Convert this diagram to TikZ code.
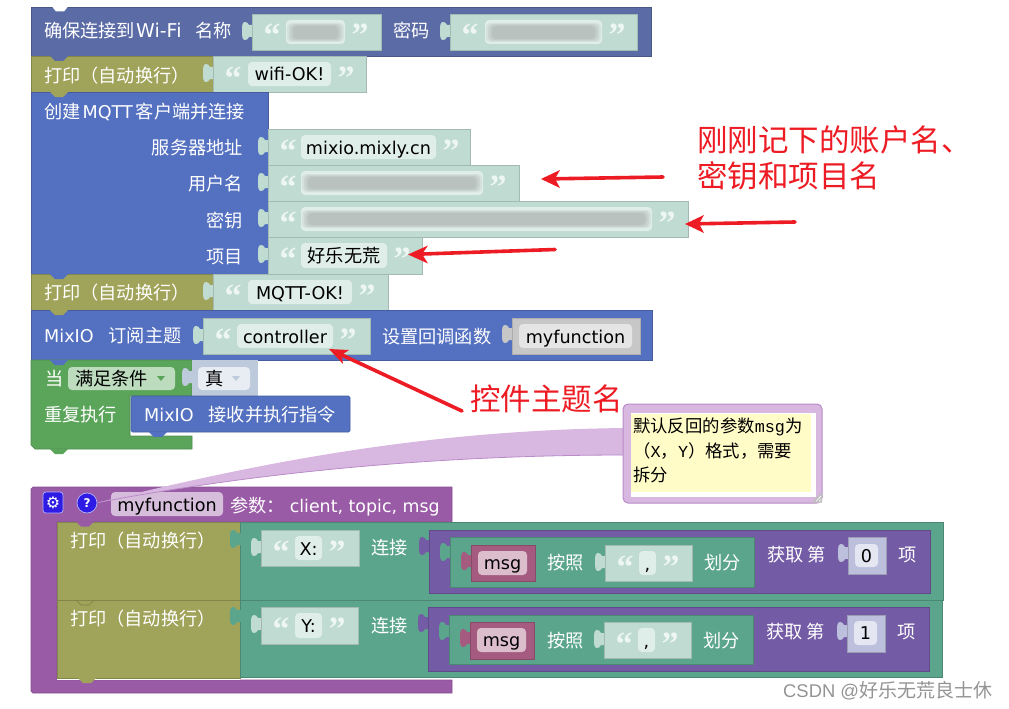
\documentclass[tikz,border=0pt]{standalone}
\usepackage{fontspec}
\usetikzlibrary{calc}
\setmainfont{DejaVu Sans}
\newfontfamily\cjk[Scale=1.034]{Noto Sans CJK SC}
\newfontfamily\qfont{Liberation Serif}[BoldFont={Liberation Serif Bold}]
\newfontfamily\cmono{Liberation Mono}
\newfontfamily\wmfont{Liberation Sans}
\newcommand{\cn}[1]{{\cjk #1}}
\definecolor{cWifi}{HTML}{5B6BA5}
\definecolor{cPrint}{HTML}{A0A45A}
\definecolor{cMq}{HTML}{5470C0}
\definecolor{cStr}{HTML}{C0DBD1}
\definecolor{cFld}{HTML}{E0EEEA}
\definecolor{cQuo}{HTML}{EDF6F3}
\definecolor{cGreen}{HTML}{5BA55B}
\definecolor{cFun}{HTML}{995BA5}
\definecolor{cTeal}{HTML}{5BA58C}
\definecolor{cVio}{HTML}{745BA5}
\definecolor{cMsg}{HTML}{A55B80}
\definecolor{cNum}{HTML}{BCC0DC}
\definecolor{cRed}{HTML}{ED1C24}
\definecolor{cBub}{HTML}{D8B7E0}
\definecolor{cBubE}{HTML}{B98CC8}
\definecolor{cTrue}{HTML}{BCCADC}
\tikzset{
  wtxt/.style={text=white,inner sep=0pt,font=\fontsize{17.6}{20}\selectfont},
  btxt/.style={text=black,inner sep=0pt,font=\fontsize{17.6}{20}\selectfont},
  rtxt/.style={text=cRed,inner sep=0pt,font=\fontsize{29.5}{34}\selectfont\cjk},
  ctxt/.style={text=black,inner sep=0pt,font=\fontsize{16.8}{20}\selectfont},
  qmark/.style={text=cQuo,inner sep=0pt,font=\fontsize{34}{34}\selectfont\qfont\bfseries},
  redarrow/.style={draw=cRed,line width=3.6pt,line cap=round},
}
% rectangular block
\newcommand{\blk}[5]{\path[fill=#1,draw=#1!82!black,line width=.7pt] (#2,#3) rectangle (#4,#5);}
% puzzle tab on the left edge of x, starting at y
\newcommand{\tabp}[3]{\fill[#1] ({#2+1},{#3+11}) -- ({#2-3},{#3+11}) .. controls ({#2-4},{#3+9}) and ({#2-5},{#3+8}) .. ({#2-7},{#3+8}) .. controls ({#2-10},{#3+8}) and ({#2-10},{#3+12}) .. ({#2-10},{#3+17}) .. controls ({#2-10},{#3+22}) and ({#2-10},{#3+26}) .. ({#2-7},{#3+26}) .. controls ({#2-5},{#3+26}) and ({#2-4},{#3+25}) .. ({#2-3},{#3+23}) -- ({#2+1},{#3+23}) -- cycle;}
% notch hanging under y
\newcommand{\nub}[3]{\fill[#1] ({#2},#3) -- ({#2+5},{#3+5}) -- ({#2+13},{#3+5}) -- ({#2+18},#3) -- cycle;}
% input field
\newcommand{\fld}[5]{\fill[#1,rounded corners=4pt] (#2,#3) rectangle (#4,#5);}
% left-anchored and right-anchored white labels, y is the line centre
\newcommand{\lab}[4]{\node[wtxt,anchor=base west] (#1) at (#2,{#3+7}) {#4};}
\newcommand{\labr}[4]{\node[wtxt,anchor=base east] (#1) at (#2,{#3+7}) {#4};}
% string block: name, x0, x1, y0, y1, f0, f1, content
\newcommand{\strb}[8]{%
  \tabp{cStr}{#2}{#4}
  \path[fill=cStr,draw=cStr!85!black,line width=.5pt] (#2,#4) rectangle (#3,#5);
  \fld{cFld}{#6}{{#4+6}}{#7}{{#5-6}}
  \node[qmark,anchor=base] (#1L) at ({#2+20},{#4+33}) {“};
  \node[qmark,anchor=base] (#1R) at ({#7+15},{#4+33}) {”};
  \node[btxt,anchor=base] (#1) at ({(#6+#7)/2},{(#4+#5)/2+7}) {#8};}
% blurred text
\newcommand{\blurtxt}[4]{%
  \foreach \i in {0,1,2,3}{\fill[black!55,opacity=.10,rounded corners=4pt] ({#1+1+\i*2},{#2+3+\i}) rectangle ({#3-1-\i*2},{#4-3-\i});}}
\begin{document}
\begin{tikzpicture}[x=1pt,y=-1pt]
\useasboundingbox (0,0) rectangle (1009,709);
\fill[white] (0,0) rectangle (1009,709);

% ---- wifi block
\blk{cWifi}{31}{7}{651}{56}
\fill[white] (52,6.5) -- (56,11.5) -- (64,11.5) -- (68,6.5) -- cycle;
\lab{wifiA}{44}{31}{\cn{确保连接到}\hspace{1pt}{\fontsize{19}{20}\selectfont Wi-Fi}}
\lab{wifiB}{195}{31}{\cn{名称}}
\strb{ssid}{252}{381}{14}{50}{286}{345}{}
\blurtxt{286}{20}{345}{45}
\lab{wifiC}{393}{31}{\cn{密码}}
\strb{pass}{450}{637}{14}{50}{485}{602}{}
\blurtxt{485}{20}{602}{45}

% ---- print 1
\blk{cPrint}{31}{56}{213}{92}
\lab{pr1}{44}{75}{\cn{打印（自动换行）}}
\strb{wifiok}{213}{366}{56}{92}{248}{331}{wifi-OK!}

% ---- MQTT block
\blk{cMq}{31}{92}{268}{274}
\lab{mqA}{44}{111}{\cn{创建}\hspace{2pt}MQTT\hspace{3pt}\cn{客户端并连接}}
\labr{mqB}{243}{147}{\cn{服务器地址}}
\labr{mqC}{243}{183}{\cn{用户名}}
\labr{mqD}{243}{220}{\cn{密钥}}
\labr{mqE}{243}{256}{\cn{项目}}
\strb{srv}{268}{470}{129}{165}{301}{436}{mixio.mixly.cn}
\strb{usr}{268}{519}{165}{201}{301}{483}{}
\blurtxt{301}{171}{483}{195}
\strb{key}{268}{688}{201}{237}{301}{652}{}
\blurtxt{301}{207}{652}{231}
\strb{prj}{268}{422}{237}{274}{301}{387}{\cn{好乐无荒}}

% ---- print 2
\blk{cPrint}{31}{274}{213}{310}
\lab{pr2}{44}{292}{\cn{打印（自动换行）}}
\strb{mqok}{213}{388}{274}{310}{248}{352}{MQTT-OK!}

% ---- subscribe
\blk{cMq}{31}{310}{652}{360}
\lab{subA}{44}{335}{MixIO\hspace{15pt}\cn{订阅主题}}
\strb{topic}{203}{370}{318}{354}{237}{333}{controller}
\lab{subB}{382}{336}{\cn{设置回调函数}}
\tabp{black!22}{512}{317}
\path[fill=black!22,draw=black!32,line width=.5pt] (512,318) rectangle (640,354);
\fld{black!10}{519}{324}{632}{348}
\node[btxt,anchor=base] (cbk) at (575.5,343) {myfunction};

% ---- while block
\path[fill=cGreen,draw=cGreen!85!black,line width=.7pt] (31,360) -- (192,360) -- (192,396) -- (130,396) -- (130,436) -- (192,436) -- (192,449) -- (35,449) -- (31,445) -- cycle;
\lab{whA}{45}{378}{\cn{当}}
\fld{cGreen!40!white}{68}{367}{175}{390}
\node[btxt,anchor=base west] (whB) at (75,385) {\cn{满足条件}};
\fill[cGreen] (157,376) -- (165,376) -- (161,381) -- cycle;
\fill[cTrue] (192,360) rectangle (258,396);
\tabp{cTrue}{192}{360}
\fld{cTrue!35!white}{198}{367}{250}{390}
\node[btxt,anchor=base west] (whC) at (205,385) {\cn{真}};
\fill[cTrue] (232,376) -- (240,376) -- (236,381) -- cycle;
\lab{whD}{44}{414}{\cn{重复执行}}
\path[fill=cMq,draw=cMq!85!black,line width=.7pt,rounded corners=1.5pt] (131,396) rectangle (350,432);
\lab{whE}{144}{414}{MixIO\hspace{15pt}\cn{接收并执行指令}}

% ---- function block
\path[fill=cFun,draw=cFun!88!black,line width=.7pt] (33,487) -- (452,487) -- (452,522) -- (57,522) -- (57,680) -- (452,680) -- (452,693) -- (33,693) -- (31,691) -- (31,489) -- cycle;
\path[fill=blue!70!cFun,draw=white!70!blue,line width=.7pt,rounded corners=3pt] (43,492) rectangle (63,513);
\node[inner sep=0pt,text=white,font=\fontsize{16}{16}\selectfont] (gear) at (53,502.5) {⚙};
\path[fill=blue!70!cFun,draw=white!70!blue,line width=.7pt] (87,503) circle (10);
\node[inner sep=0pt,text=white,font=\fontsize{12}{12}\selectfont\bfseries] (help) at (87,503) {?};
\fld{cFun!40!white}{111}{492}{223}{516}
\node[btxt,anchor=base] (fname) at (167,511) {myfunction};
\lab{fargs}{230}{505}{\cn{参数：}\hspace{5pt}{\fontsize{17.4}{20}\selectfont client, topic, msg}}

% ---- row 1
\blk{cPrint}{57}{522}{240}{600}
\blk{cTeal}{240}{522}{943}{600}
\lab{r1a}{70}{540}{\cn{打印（自动换行）}}
\tabp{cTeal}{240}{522}
\strb{xs}{261}{359}{530}{566}{295}{322}{X:}
\lab{r1b}{371}{547}{\cn{连接}}
\tabp{cVio}{429}{529}
\blk{cVio}{429}{530}{930}{593}
\tabp{cTeal}{450}{535}
\blk{cTeal}{450}{537}{754}{587}
\tabp{cMsg}{471}{544}
\blk{cMsg}{471}{545}{535}{581}
\fld{cMsg!40!white}{478}{551}{527}{575}
\node[btxt,anchor=base] (m1) at (502.5,569.5) {msg};
\lab{r1c}{547}{562}{\cn{按照}}
\strb{c1}{605}{692}{545}{581}{639}{656}{,}
\lab{r1d}{704}{562}{\cn{划分}}
\lab{r1e}{767}{554}{\cn{获取}\hspace{4pt}\cn{第}}
\tabp{cNum}{848}{536}
\blk{cNum}{848}{537}{886}{574}
\fld{cNum!40!white}{855}{544}{878}{567}
\node[btxt,anchor=base] (n0) at (866.5,562) {0};
\lab{r1f}{898}{554}{\cn{项}}

% ---- row 2
\blk{cPrint}{57}{600}{240}{678}
\blk{cTeal}{240}{600}{942}{677}
\lab{r2a}{70}{618}{\cn{打印（自动换行）}}
\tabp{cTeal}{240}{599}
\strb{ys}{261}{358}{607}{644}{295}{322}{Y:}
\lab{r2b}{371}{625}{\cn{连接}}
\tabp{cVio}{428}{606}
\blk{cVio}{428}{607}{929}{671}
\tabp{cTeal}{449}{614}
\blk{cTeal}{449}{615}{753}{664}
\tabp{cMsg}{470}{621}
\blk{cMsg}{470}{622}{534}{659}
\fld{cMsg!40!white}{477}{628}{526}{652}
\node[btxt,anchor=base] (m2) at (501.5,646.5) {msg};
\lab{r2c}{547}{640}{\cn{按照}}
\strb{c2}{604}{691}{622}{658}{638}{655}{,}
\lab{r2d}{703}{640}{\cn{划分}}
\lab{r2e}{766}{631}{\cn{获取}\hspace{4pt}\cn{第}}
\tabp{cNum}{847}{614}
\blk{cNum}{847}{615}{885}{652}
\fld{cNum!40!white}{854}{621}{877}{645}
\node[btxt,anchor=base] (n1) at (865.5,639.5) {1};
\lab{r2f}{897}{631}{\cn{项}}

% ---- notches that hang over the next block
\nub{cWifi}{50}{56}
\nub{cPrint}{50}{92}
\nub{cMq}{50}{274}
\nub{cPrint}{50}{310}
\nub{cMq}{50}{360}
\nub{cGreen}{50}{449}
\nub{cMq}{149}{432}
\fill[white] (57,678.5) rectangle (240,680);
\nub{cPrint}{78}{678}
\fill[cFun] (76,521.5) -- (81,526.5) -- (89,526.5) -- (94,521.5) -- cycle;
\draw[cPrint!80!black,line width=.7pt] (76,600) -- (81,605) -- (89,605) -- (94,600);

% ---- comment bubble
\path[fill=cBub] (98,502.5) .. controls (250,465) and (420,430) .. (626,428) -- (626,455) .. controls (450,455) and (270,470) .. (98,502.5) -- cycle;
\draw[cBubE,line width=.8pt] (626,455) .. controls (450,455) and (270,470) .. (98,502.5);
\path[fill=cBub,draw=cBubE,line width=1pt,rounded corners=5pt] (623,404) rectangle (822,503);
\fill[white] (631,413) rectangle (816,497);
\fill[yellow!22!white] (631,414) rectangle (811,491.5);
\fill[black!25] (822,492) -- (822,502.5) -- (811.5,502.5) -- cycle;
\draw[white,line width=.6pt] (821,496) -- (816,501.5) (821,499.5) -- (819,501.5);
\node[ctxt,anchor=base west] (c1) at (633,432) {\cn{默认反回的参数}{\cmono msg}\cn{为}};
\node[ctxt,anchor=base west] (c2) at (633,457) {\cn{（}{\cmono X}\cn{，}{\cmono Y}\cn{）格式，需要}};
\node[ctxt,anchor=base west] (c3) at (633,481) {\cn{拆分}};

% ---- red notes
\node[rtxt,anchor=base west] (noteA) at (697,151) {刚刚记下的账户名、};
\node[rtxt,anchor=base west] (noteB) at (697,187) {密钥和项目名};
\node[rtxt,anchor=base west] (noteC) at (470,410) {控件主题名};

\coordinate (a1s) at (663,177); \coordinate (a1e) at (541,179);
\coordinate (a2s) at (795,222); \coordinate (a2e) at (685,224);
\coordinate (a3s) at (555,249.5); \coordinate (a3e) at (408,254.5);
\coordinate (a4s) at (462,411); \coordinate (a4e) at (329,349);
\foreach \s/\e/\pxa/\pya/\pxb/\pyb in {a1s/a1e/19/-9/19/9,a2s/a2e/19/-9/19/9,a3s/a3e/20/-9/20/9,a4s/a4e/20/1/14/15}{
  \draw[redarrow] (\s) -- ($(\e)!14pt!(\s)$);
  \fill[cRed] (\e) -- ($(\e)+(\pxa,\pya)$) -- ($(\e)!14pt!(\s)$) -- ($(\e)+(\pxb,\pyb)$) -- cycle;
}

% ---- watermark
\node[inner sep=0pt,anchor=base west,text=black!42,font=\fontsize{18.4}{20}\selectfont] (wm) at (783,697) {{\wmfont CSDN @}\cn{好乐无荒良士休}};
\end{tikzpicture}
\end{document}
